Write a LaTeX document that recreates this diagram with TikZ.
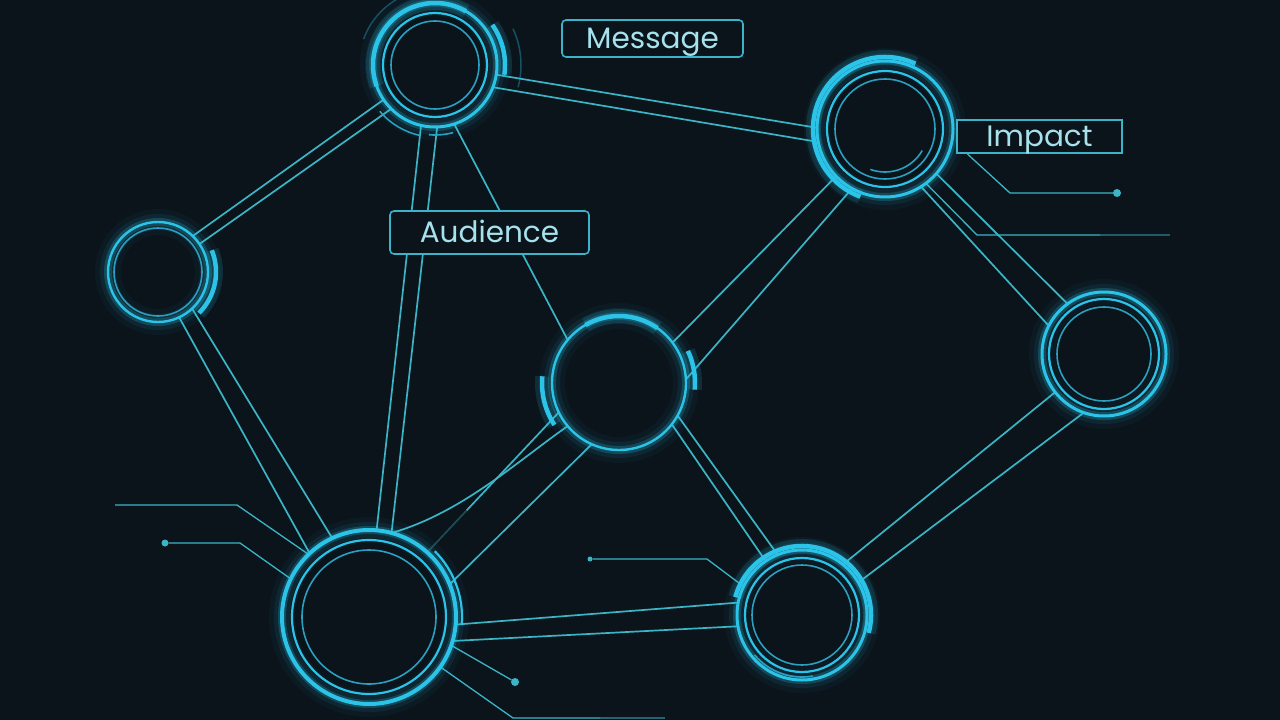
\documentclass[tikz,border=0pt]{standalone}
\usepackage{fontspec}
\setmainfont{Poppins}
\usetikzlibrary{calc}
\definecolor{bgc}{HTML}{0B141B}
\definecolor{ringc}{HTML}{2BC3E8}
\definecolor{ringd}{HTML}{2A9FC0}
\definecolor{linkc}{HTML}{3BB5C6}
\definecolor{txtc}{HTML}{A6E2EC}
\definecolor{boxc}{HTML}{3BB3C9}
\tikzset{
 hubring/.style={circle, inner sep=0pt, outer sep=0pt, minimum size=#1, draw=ringc, line width=3pt,
   preaction={draw=ringc, line width=26pt, draw opacity=0.04},
   preaction={draw=ringc, line width=16pt, draw opacity=0.08},
   preaction={draw=ringc, line width=8pt, draw opacity=0.22}},
 ringline/.style={draw=ringc, line width=2.2pt},
 thinline/.style={draw=ringd, line width=1.6pt},
 linkline/.style={draw=linkc, line width=1.7pt},
 leadline/.style={draw=linkc, line width=1.3pt},
 faintarc/.style={draw=ringc, line width=1.5pt, draw opacity=0.35},
 brightarc/.style={draw=ringc, line width=4.5pt, preaction={draw=ringc, line width=14pt, draw opacity=0.15}},
 tagbox/.style={draw=boxc, line width=1.6pt, fill=bgc, text=txtc, font=\fontsize{29.5}{32}\selectfont,
   inner sep=0pt, text height=20.5pt, text depth=0pt},
 dotfill/.style={circle, fill=linkc, draw=none, inner sep=0pt, minimum size=#1}
}
\newcommand{\harc}[5][]{\draw[#1] ([shift={(#4:#3pt)}]#2.center) arc[start angle=#4,end angle=#5,radius=#3pt];}
\begin{document}
\begin{tikzpicture}[x=1pt,y=-1pt]
\useasboundingbox (0,0) rectangle (1280,720);
\fill[bgc] (0,0) rectangle (1280,720);

% hubs (positions)
\path (435,65) coordinate (Ac) (885,129) coordinate (Bc) (158,272) coordinate (Cc)
      (619,383) coordinate (Dc) (1104,354) coordinate (Ec) (369,617) coordinate (Fc) (802,615) coordinate (Gc);
\path (Ac) node[circle,inner sep=0pt,outer sep=0pt,minimum size=124pt] (A) {};
\path (Bc) node[circle,inner sep=0pt,outer sep=0pt,minimum size=136pt] (B) {};
\path (Cc) node[circle,inner sep=0pt,outer sep=0pt,minimum size=100pt] (C) {};
\path (Dc) node[circle,inner sep=0pt,outer sep=0pt,minimum size=134pt] (D) {};
\path (Ec) node[circle,inner sep=0pt,outer sep=0pt,minimum size=124pt] (E) {};
\path (Fc) node[circle,inner sep=0pt,outer sep=0pt,minimum size=174pt] (F) {};
\path (Gc) node[circle,inner sep=0pt,outer sep=0pt,minimum size=130pt] (G) {};

% connectors
\draw[linkline] (A.-9.5) -- (B.179);
\draw[linkline] (A.-21.6) -- (B.191);
\draw[linkline] (A.214) -- (C.46.5);
\draw[linkline] (A.225) -- (C.34);
\draw[linkline] (A.257) -- (F.85);
\draw[linkline] (A.272) -- (F.75);
\draw[linkline] (A.288) -- (D.140);
\draw[linkline] (C.-65.4) -- (F.133.6);
\draw[linkline] (C.-47.8) -- (F.115.7);
\draw[linkline] (F.75) .. controls +(70,-20) and +(-50,35) .. (D.220);
\draw[linkline] (D.206) -- ($(D.206)!0.7!(F.48)$);
\draw[linkline, draw opacity=0.35] ($(D.206)!0.7!(F.48)$) -- (F.48);
\draw[linkline] (D.246) -- (F.22.8);
\draw[linkline] (D.37.5) -- (B.224.4);
\draw[linkline] (D.3) -- (B.241);
\draw[linkline] (D.-38.4) -- (G.124.9);
\draw[linkline] (D.-29.4) -- (G.112.6);
\draw[linkline] (B.-58) -- (E.153);
\draw[linkline] (B.-41.5) -- (E.126);
\draw[linkline] (E.218.5) -- (G.51.7);
\draw[linkline] (E.251) -- (G.30.5);
\draw[linkline] (F.-5) -- (G.169.5);
\draw[linkline] (F.-16.3) -- (G.190.5);

% leaders
\coordinate (p1a) at (115,505); \coordinate (p1b) at (237,505);
\draw[leadline] (p1a) -- (p1b) -- (F.134.5);
\node[dotfill=7pt] (d1) at (165,543) {};
\coordinate (p2b) at (240,543);
\draw[leadline] (d1) -- (p2b) -- (F.154);
\node[dotfill=8pt] (d2) at (515,682) {};
\draw[leadline] (F.-19) -- (d2);
\coordinate (p4b) at (513,718); \coordinate (p4c) at (600,718); \coordinate (p4d) at (665,718);
\draw[leadline] (F.-35) -- (p4b) -- (p4c);
\draw[leadline, draw opacity=0.5] (p4c) -- (p4d);
\node[dotfill=5pt] (d3) at (590,559) {};
\coordinate (p5b) at (707,559);
\draw[leadline] (d3) -- (p5b) -- (G.154);
\coordinate (p6b) at (977,235); \coordinate (p6c) at (1100,235); \coordinate (p6d) at (1170,235);
\draw[leadline] (B.-53) -- (p6b) -- (p6c);
\draw[leadline, draw opacity=0.45] (p6c) -- (p6d);

% hub rings
\node[hubring=124pt] at (Ac) {};
\draw[ringline] (Ac) circle[radius=52pt];
\draw[thinline] (Ac) circle[radius=44pt];
\harc[brightarc]{A}{62}{60}{200}
\harc[brightarc]{A}{70}{-8}{35}
\harc[faintarc]{A}{76}{95}{160}
\harc[faintarc]{A}{86}{-15}{25}
\harc[thinline]{A}{72}{-140}{-102}
\harc[thinline]{A}{70}{-95}{-75}

\node[hubring=136pt] at (Bc) {};
\draw[ringline] (Bc) circle[radius=58pt];
\draw[thinline] (Bc) circle[radius=50pt];
\harc[brightarc]{B}{72}{65}{250}
\harc[thinline]{B}{43}{-110}{-30}

\node[hubring=100pt, line width=2.4pt] at (Cc) {};
\draw[thinline] (Cc) circle[radius=44pt];
\harc[brightarc]{C}{58}{-45}{22}

\node[hubring=134pt, line width=2.4pt] at (Dc) {};
\harc[brightarc]{D}{67}{55}{120}
\harc[brightarc]{D}{77}{175}{213}
\harc[brightarc]{D}{76}{-5}{25}

\node[hubring=124pt] at (Ec) {};
\draw[ringline] (Ec) circle[radius=55pt];
\draw[thinline] (Ec) circle[radius=47pt];

\node[hubring=174pt, line width=4pt] at (Fc) {};
\draw[ringline] (Fc) circle[radius=77pt];
\draw[thinline] (Fc) circle[radius=67pt];
\harc[ringline]{F}{93}{-5}{45}

\node[hubring=130pt] at (Gc) {};
\draw[ringline] (Gc) circle[radius=57pt];
\draw[thinline] (Gc) circle[radius=50pt];
\harc[brightarc]{G}{69}{-15}{165}
\harc[thinline]{G}{62}{220}{280}

% labels
\node[tagbox, rounded corners=4pt, minimum width=181pt, minimum height=37pt] (msg) at (652.5,38.5) {Message};
\node[tagbox, minimum width=165pt, minimum height=33pt] (impact) at (1039.5,136.5) {Impact};
\node[tagbox, rounded corners=4pt, minimum width=199pt, minimum height=43pt] (aud) at (489.5,232.5) {Audience};
\coordinate (p7b) at (1010,193);
\node[dotfill=8pt] (d4) at (1117,193) {};
\draw[leadline] ([xshift=11pt]impact.south west) -- (p7b) -- (d4);
\end{tikzpicture}
\end{document}
